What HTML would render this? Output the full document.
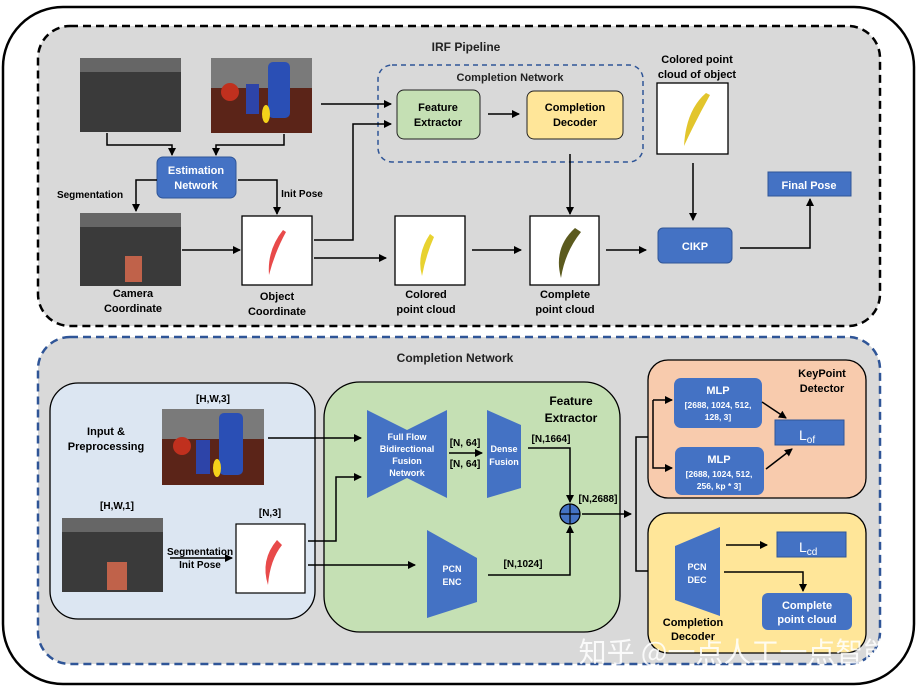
<!DOCTYPE html>
<html><head><meta charset="utf-8"><style>
body{margin:0;background:#fff;width:918px;height:689px;overflow:hidden}
svg text{font-family:"Liberation Sans","Noto Sans CJK SC",sans-serif;}
</style></head><body>
<svg width="918" height="689" viewBox="0 0 918 689" xmlns="http://www.w3.org/2000/svg">
<defs>
<marker id="a" markerWidth="8" markerHeight="8" refX="7" refY="4" orient="auto" markerUnits="userSpaceOnUse"><path d="M0,0 L8,4 L0,8 z" fill="#000"/></marker>
</defs>
<rect x="3" y="7" width="911" height="677" rx="60" fill="#fff" stroke="#000" stroke-width="2.5"/>
<!-- top dashed -->
<rect x="38" y="26" width="842" height="300" rx="32" fill="#d9d9d9" stroke="#000" stroke-width="2.5" stroke-dasharray="8,5"/>
<text x="466" y="51" font-size="12" font-weight="bold" text-anchor="middle" fill="#222">IRF Pipeline</text>
<!-- images top -->
<rect x="80" y="58" width="101" height="74" fill="#3a3a3a"/>
<rect x="80" y="58" width="101" height="14" fill="#666"/>
<rect x="211" y="58" width="101" height="75" fill="#5b2418"/>
<rect x="211" y="58" width="101" height="30" fill="#7a7a7a"/>
<rect x="268" y="62" width="22" height="56" rx="5" fill="#2a4fb5"/>
<rect x="246" y="84" width="13" height="30" fill="#2d44a8"/>
<circle cx="230" cy="92" r="9" fill="#c0301e"/>
<ellipse cx="266" cy="114" rx="4" ry="9" fill="#f4d21a"/>
<!-- completion network dashed -->
<rect x="378" y="65" width="265" height="97" rx="14" fill="none" stroke="#2f5597" stroke-width="1.5" stroke-dasharray="5,4"/>
<text x="510" y="81" font-size="11" font-weight="bold" text-anchor="middle" fill="#222">Completion Network</text>
<rect x="397" y="90" width="83" height="49" rx="7" fill="#c5e0b4" stroke="#222" stroke-width="1"/>
<text x="438" y="111" font-size="11" font-weight="bold" text-anchor="middle">Feature</text>
<text x="438" y="126" font-size="11" font-weight="bold" text-anchor="middle">Extractor</text>
<rect x="527" y="91" width="96" height="48" rx="7" fill="#ffe699" stroke="#222" stroke-width="1"/>
<text x="575" y="111" font-size="11" font-weight="bold" text-anchor="middle">Completion</text>
<text x="575" y="126" font-size="11" font-weight="bold" text-anchor="middle">Decoder</text>
<line x1="488" y1="114" x2="519" y2="114" stroke="#000" stroke-width="1.5" marker-end="url(#a)"/>
<line x1="321" y1="104" x2="391" y2="104" stroke="#000" stroke-width="1.5" marker-end="url(#a)"/>
<!-- colored object -->
<text x="697" y="63" font-size="11" font-weight="bold" text-anchor="middle">Colored  point</text>
<text x="697" y="78" font-size="11" font-weight="bold" text-anchor="middle">cloud of object</text>
<rect x="657" y="83" width="71" height="71" fill="#fff" stroke="#000" stroke-width="1.3"/>
<path d="M706,93 Q686,110 684,146 Q696,120 710,95 z" fill="#e2c52c"/>
<line x1="693" y1="163" x2="693" y2="220" stroke="#000" stroke-width="1.5" marker-end="url(#a)"/>
<!-- estimation -->
<rect x="157" y="157" width="79" height="41" rx="6" fill="#4472c4" stroke="#2f5597"/>
<text x="196" y="174" font-size="11" font-weight="bold" text-anchor="middle" fill="#fff">Estimation</text>
<text x="196" y="189" font-size="11" font-weight="bold" text-anchor="middle" fill="#fff">Network</text>
<polyline points="107,133 107,145 172,145 172,155" fill="none" stroke="#000" stroke-width="1.5" marker-end="url(#a)"/>
<polyline points="284,134 284,145 216,145 216,155" fill="none" stroke="#000" stroke-width="1.5" marker-end="url(#a)"/>
<polyline points="157,180 136,180 136,211" fill="none" stroke="#000" stroke-width="1.5" marker-end="url(#a)"/>
<polyline points="238,180 277,180 277,214" fill="none" stroke="#000" stroke-width="1.5" marker-end="url(#a)"/>
<text x="90" y="198" font-size="10" font-weight="bold" text-anchor="middle">Segmentation</text>
<text x="302" y="197" font-size="10" font-weight="bold" text-anchor="middle">Init Pose</text>
<!-- bottom row top -->
<rect x="80" y="213" width="101" height="73" fill="#3a3a3a"/>
<rect x="80" y="213" width="101" height="14" fill="#666"/>
<rect x="125" y="256" width="17" height="26" fill="#c0624a"/>
<text x="133" y="297" font-size="11" font-weight="bold" text-anchor="middle">Camera</text>
<text x="133" y="312" font-size="11" font-weight="bold" text-anchor="middle">Coordinate</text>
<line x1="182" y1="250" x2="240" y2="250" stroke="#000" stroke-width="1.5" marker-end="url(#a)"/>
<rect x="242" y="216" width="70" height="69" fill="#fff" stroke="#000" stroke-width="1.3"/>
<path d="M283,230 Q267,250 269,275 Q275,252 286,232 z" fill="#e84a4a"/>
<text x="277" y="300" font-size="11" font-weight="bold" text-anchor="middle">Object</text>
<text x="277" y="315" font-size="11" font-weight="bold" text-anchor="middle">Coordinate</text>
<polyline points="314,240 353,240 353,124 391,124" fill="none" stroke="#000" stroke-width="1.5" marker-end="url(#a)"/>
<line x1="314" y1="258" x2="386" y2="258" stroke="#000" stroke-width="1.5" marker-end="url(#a)"/>
<rect x="395" y="216" width="70" height="69" fill="#fff" stroke="#000" stroke-width="1.3"/>
<path d="M430,234 Q416,255 422,276 Q426,255 434,237 z" fill="#e8d230"/>
<text x="426" y="298" font-size="11" font-weight="bold" text-anchor="middle">Colored</text>
<text x="426" y="313" font-size="11" font-weight="bold" text-anchor="middle">point cloud</text>
<line x1="472" y1="250" x2="521" y2="250" stroke="#000" stroke-width="1.5" marker-end="url(#a)"/>
<line x1="570" y1="154" x2="570" y2="214" stroke="#000" stroke-width="1.5" marker-end="url(#a)"/>
<rect x="530" y="216" width="69" height="69" fill="#fff" stroke="#000" stroke-width="1.3"/>
<path d="M575,228 Q553,248 561,278 Q565,252 581,232 z" fill="#5b5a1e"/>
<text x="565" y="298" font-size="11" font-weight="bold" text-anchor="middle">Complete</text>
<text x="565" y="313" font-size="11" font-weight="bold" text-anchor="middle">point cloud</text>
<line x1="606" y1="250" x2="646" y2="250" stroke="#000" stroke-width="1.5" marker-end="url(#a)"/>
<rect x="658" y="228" width="74" height="35" rx="5" fill="#4472c4" stroke="#2f5597"/>
<text x="695" y="250" font-size="11" font-weight="bold" text-anchor="middle" fill="#fff">CIKP</text>
<polyline points="740,248 810,248 810,199" fill="none" stroke="#000" stroke-width="1.5" marker-end="url(#a)"/>
<rect x="768" y="172" width="83" height="24" fill="#4472c4" stroke="#2f5597"/>
<text x="809" y="189" font-size="11" font-weight="bold" text-anchor="middle" fill="#fff">Final Pose</text>

<!-- bottom dashed -->
<rect x="38" y="337" width="842" height="327" rx="32" fill="#d9d9d9" stroke="#2f5597" stroke-width="2.5" stroke-dasharray="8,5"/>
<text x="455" y="362" font-size="12" font-weight="bold" text-anchor="middle" fill="#222">Completion Network</text>
<!-- input -->
<rect x="50" y="383" width="265" height="236" rx="28" fill="#dce6f2" stroke="#000" stroke-width="1.3"/>
<text x="106" y="435" font-size="11" font-weight="bold" text-anchor="middle">Input &amp;</text>
<text x="106" y="450" font-size="11" font-weight="bold" text-anchor="middle">Preprocessing</text>
<text x="213" y="402" font-size="10" font-weight="bold" text-anchor="middle">[H,W,3]</text>
<rect x="162" y="409" width="102" height="76" fill="#5b2418"/>
<rect x="162" y="409" width="102" height="30" fill="#7a7a7a"/>
<rect x="219" y="413" width="24" height="62" rx="5" fill="#2a4fb5"/>
<rect x="196" y="440" width="14" height="34" fill="#2d44a8"/>
<circle cx="182" cy="446" r="9" fill="#c0301e"/>
<ellipse cx="217" cy="468" rx="4" ry="9" fill="#f4d21a"/>
<text x="117" y="509" font-size="10" font-weight="bold" text-anchor="middle">[H,W,1]</text>
<rect x="62" y="518" width="101" height="74" fill="#3a3a3a"/>
<rect x="62" y="518" width="101" height="14" fill="#666"/>
<rect x="107" y="562" width="20" height="28" fill="#c0624a"/>
<text x="200" y="555" font-size="10" font-weight="bold" text-anchor="middle">Segmentation</text>
<text x="200" y="568" font-size="10" font-weight="bold" text-anchor="middle">Init Pose</text>
<line x1="170" y1="558" x2="232" y2="558" stroke="#000" stroke-width="1.5" marker-end="url(#a)"/>
<text x="270" y="516" font-size="10" font-weight="bold" text-anchor="middle">[N,3]</text>
<rect x="236" y="524" width="69" height="69" fill="#fff" stroke="#000" stroke-width="1.2"/>
<path d="M277,540 Q260,560 268,585 Q270,560 282,545 z" fill="#e84a4a"/>
<!-- green -->
<rect x="324" y="382" width="296" height="250" rx="36" fill="#c5e0b4" stroke="#000" stroke-width="1.3"/>
<text x="571" y="405" font-size="12" font-weight="bold" text-anchor="middle">Feature</text>
<text x="571" y="422" font-size="12" font-weight="bold" text-anchor="middle">Extractor</text>
<polygon points="367,410 407,430 447,410 447,498 407,478 367,498" fill="#4472c4"/>
<text x="407" y="440" font-size="9" font-weight="bold" text-anchor="middle" fill="#fff">Full Flow</text>
<text x="407" y="452" font-size="9" font-weight="bold" text-anchor="middle" fill="#fff">Bidirectional</text>
<text x="407" y="464" font-size="9" font-weight="bold" text-anchor="middle" fill="#fff">Fusion</text>
<text x="407" y="476" font-size="9" font-weight="bold" text-anchor="middle" fill="#fff">Network</text>
<line x1="449" y1="453" x2="482" y2="453" stroke="#000" stroke-width="1.5" marker-end="url(#a)"/>
<text x="465" y="446" font-size="10" font-weight="bold" text-anchor="middle">[N, 64]</text>
<text x="465" y="467" font-size="10" font-weight="bold" text-anchor="middle">[N, 64]</text>
<polygon points="487,410 521,425 521,488 487,498" fill="#4472c4"/>
<text x="504" y="452" font-size="9" font-weight="bold" text-anchor="middle" fill="#fff">Dense</text>
<text x="504" y="465" font-size="9" font-weight="bold" text-anchor="middle" fill="#fff">Fusion</text>
<text x="551" y="442" font-size="10" font-weight="bold" text-anchor="middle">[N,1664]</text>
<polyline points="528,448 570,448 570,502" fill="none" stroke="#000" stroke-width="1.5" marker-end="url(#a)"/>
<line x1="268" y1="438" x2="361" y2="438" stroke="#000" stroke-width="1.5" marker-end="url(#a)"/>
<polyline points="308,541 336,541 336,477 361,477" fill="none" stroke="#000" stroke-width="1.5" marker-end="url(#a)"/>
<line x1="308" y1="565" x2="415" y2="565" stroke="#000" stroke-width="1.5" marker-end="url(#a)"/>
<polygon points="427,530 477,558 477,602 427,618" fill="#4472c4"/>
<text x="452" y="572" font-size="9" font-weight="bold" text-anchor="middle" fill="#fff">PCN</text>
<text x="452" y="585" font-size="9" font-weight="bold" text-anchor="middle" fill="#fff">ENC</text>
<text x="523" y="567" font-size="10" font-weight="bold" text-anchor="middle">[N,1024]</text>
<polyline points="488,575 570,575 570,526" fill="none" stroke="#000" stroke-width="1.5" marker-end="url(#a)"/>
<circle cx="570" cy="514" r="10" fill="#4472c4" stroke="#000" stroke-width="1.2"/>
<line x1="560" y1="514" x2="580" y2="514" stroke="#000" stroke-width="1.2"/>
<line x1="570" y1="504" x2="570" y2="524" stroke="#000" stroke-width="1.2"/>
<text x="598" y="502" font-size="10" font-weight="bold" text-anchor="middle">[N,2688]</text>
<line x1="582" y1="514" x2="631" y2="514" stroke="#000" stroke-width="1.5" marker-end="url(#a)"/>
<polyline points="653,437 636,437 636,571 672,571" fill="none" stroke="#000" stroke-width="1.5" marker-end="url(#a)"/>
<!-- orange -->
<rect x="648" y="360" width="218" height="138" rx="20" fill="#f8cbad" stroke="#000" stroke-width="1.3"/>
<text x="822" y="377" font-size="11" font-weight="bold" text-anchor="middle">KeyPoint</text>
<text x="822" y="392" font-size="11" font-weight="bold" text-anchor="middle">Detector</text>
<polyline points="653,400 653,468 672,468" fill="none" stroke="#000" stroke-width="1.5" marker-end="url(#a)"/>
<line x1="653" y1="400" x2="672" y2="400" stroke="#000" stroke-width="1.5" marker-end="url(#a)"/>
<rect x="674" y="378" width="88" height="50" rx="7" fill="#4472c4"/>
<text x="718" y="394" font-size="11" font-weight="bold" text-anchor="middle" fill="#fff">MLP</text>
<text x="718" y="408" font-size="8.5" font-weight="bold" text-anchor="middle" fill="#fff">[2688, 1024, 512,</text>
<text x="718" y="420" font-size="8.5" font-weight="bold" text-anchor="middle" fill="#fff">128, 3]</text>
<rect x="675" y="447" width="89" height="48" rx="7" fill="#4472c4"/>
<text x="719" y="463" font-size="11" font-weight="bold" text-anchor="middle" fill="#fff">MLP</text>
<text x="719" y="477" font-size="8.5" font-weight="bold" text-anchor="middle" fill="#fff">[2688, 1024, 512,</text>
<text x="719" y="489" font-size="8.5" font-weight="bold" text-anchor="middle" fill="#fff">256, kp * 3]</text>
<rect x="775" y="420" width="69" height="25" fill="#4472c4" stroke="#2f5597"/>
<text x="799" y="440" font-size="14" fill="#fff">L<tspan font-size="10" dy="3">of</tspan></text>
<line x1="762" y1="402" x2="786" y2="418" stroke="#000" stroke-width="1.5" marker-end="url(#a)"/>
<line x1="766" y1="469" x2="792" y2="449" stroke="#000" stroke-width="1.5" marker-end="url(#a)"/>
<!-- yellow -->
<rect x="648" y="513" width="218" height="140" rx="20" fill="#ffe699" stroke="#000" stroke-width="1.3"/>
<polygon points="675,546 720,527 720,616 675,600" fill="#4472c4"/>
<text x="697" y="570" font-size="9" font-weight="bold" text-anchor="middle" fill="#fff">PCN</text>
<text x="697" y="583" font-size="9" font-weight="bold" text-anchor="middle" fill="#fff">DEC</text>
<line x1="726" y1="545" x2="767" y2="545" stroke="#000" stroke-width="1.5" marker-end="url(#a)"/>
<rect x="777" y="532" width="69" height="25" fill="#4472c4" stroke="#2f5597"/>
<text x="799" y="552" font-size="14" fill="#fff">L<tspan font-size="10" dy="3">cd</tspan></text>
<polyline points="724,572 803,572 803,591" fill="none" stroke="#000" stroke-width="1.5" marker-end="url(#a)"/>
<rect x="762" y="593" width="90" height="37" rx="6" fill="#4472c4"/>
<text x="807" y="609" font-size="11" font-weight="bold" text-anchor="middle" fill="#fff">Complete</text>
<text x="807" y="623" font-size="11" font-weight="bold" text-anchor="middle" fill="#fff">point cloud</text>
<text x="693" y="626" font-size="11" font-weight="bold" text-anchor="middle">Completion</text>
<text x="693" y="640" font-size="11" font-weight="bold" text-anchor="middle">Decoder</text>
<text x="735" y="662" font-size="28" fill="#fff" fill-opacity="0.85" text-anchor="middle" style="font-family:'Noto Sans CJK SC',sans-serif">知乎 @一点人工一点智能</text>
</svg>
</body></html>
